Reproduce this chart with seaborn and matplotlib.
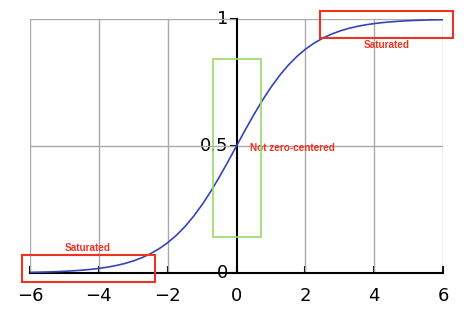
import matplotlib
matplotlib.use("Agg")
import matplotlib.pyplot as plt
import seaborn as sns
import pandas as pd
from matplotlib.patches import Rectangle

# Curve values (sigmoid shape)
x_vals = [-6.0, -5.75, -5.5, -5.25, -5.0, -4.75, -4.5, -4.25, -4.0, -3.75, -3.5, -3.25,
          -3.0, -2.75, -2.5, -2.25, -2.0, -1.75, -1.5, -1.25, -1.0, -0.75, -0.5, -0.25,
          0.0, 0.25, 0.5, 0.75, 1.0, 1.25, 1.5, 1.75, 2.0, 2.25, 2.5, 2.75,
          3.0, 3.25, 3.5, 3.75, 4.0, 4.25, 4.5, 4.75, 5.0, 5.25, 5.5, 5.75, 6.0]
y_vals = [0.0025, 0.0032, 0.0041, 0.0052, 0.0067, 0.0086, 0.0110, 0.0141, 0.0180, 0.0230,
          0.0293, 0.0373, 0.0474, 0.0601, 0.0759, 0.0954, 0.1192, 0.1481, 0.1824, 0.2227,
          0.2689, 0.3208, 0.3775, 0.4378, 0.5, 0.5622, 0.6225, 0.6792, 0.7311, 0.7773,
          0.8176, 0.8519, 0.8808, 0.9046, 0.9241, 0.9399, 0.9526, 0.9627, 0.9707, 0.9770,
          0.9820, 0.9859, 0.9890, 0.9914, 0.9933, 0.9948, 0.9959, 0.9968, 0.9975]

x_ticks = [-6, -4, -2, 0, 2, 4, 6]
x_tick_labels = ["\u22126", "\u22124", "\u22122", "0", "2", "4", "6"]
y_ticks = [0, 0.5, 1]
y_tick_labels = ["0", "0.5", "1"]

annot_texts = ["Saturated", "Saturated", "Not zero-centered"]

sns.set_style("white")
plt.rcParams['font.family'] = ['DejaVu Sans']

fig = plt.figure(figsize=(4.74, 3.16), dpi=100)
ax = fig.add_axes([30/474, 43/316, 413/474, 254/316])

df = pd.DataFrame({"x": x_vals, "y": y_vals})
sns.lineplot(data=df, x="x", y="y", ax=ax, color="#3545b5", linewidth=1.2, zorder=5)

ax.set_xlim(-6, 6)
ax.set_ylim(0, 1)
ax.set_xlabel("")
ax.set_ylabel("")

# grid
for gx in [-6, -4, -2, 2, 4, 6]:
    ax.axvline(gx, color="#aaaaaa", linewidth=1.0, zorder=1)
for gy in [0.5, 1.0]:
    ax.axhline(gy, color="#aaaaaa", linewidth=1.0, zorder=1)

ax.spines['top'].set_visible(False)
ax.spines['right'].set_visible(False)
ax.spines['left'].set_position(('data', 0))
ax.spines['bottom'].set_position(('data', 0))
for s in ['left', 'bottom']:
    ax.spines[s].set_color('black')
    ax.spines[s].set_linewidth(1.5)
    ax.spines[s].set_zorder(4)

ax.set_xticks(x_ticks)
ax.set_xticklabels(x_tick_labels)
ax.set_yticks(y_ticks)
ax.set_yticklabels(y_tick_labels)
ax.tick_params(axis='x', direction='in', length=5, width=1.5, color='black',
               labelcolor='black', labelsize=13, pad=10, bottom=True)
ax.tick_params(axis='y', direction='out', length=5, width=1.5, color='black',
               labelcolor='black', labelsize=13, pad=1, left=True)
for lbl in ax.get_yticklabels():
    lbl.set_verticalalignment('center')

red = "#ee3322"
ax.add_patch(Rectangle((2.43, 0.925), 3.86, 0.106, fill=False, edgecolor=red,
                       linewidth=1.5, clip_on=False, zorder=6))
ax.add_patch(Rectangle((-6.24, -0.035), 3.87, 0.106, fill=False, edgecolor=red,
                       linewidth=1.5, clip_on=False, zorder=6))
ax.add_patch(Rectangle((-0.69, 0.142), 1.40, 0.699, fill=False, edgecolor="#99d966",
                       linewidth=1.2, clip_on=False, zorder=6))

ax.text(4.35, 0.898, annot_texts[0], color=red, fontsize=7.2, fontweight='bold',
        family='Liberation Sans', ha='center', va='center')
ax.text(-4.32, 0.098, annot_texts[1], color=red, fontsize=7.2, fontweight='bold',
        family='Liberation Sans', ha='center', va='center')
ax.text(0.39, 0.492, annot_texts[2], color=red, fontsize=7.2, fontweight='bold',
        family='Liberation Sans', ha='left', va='center')

fig.savefig("out.png", dpi=100)
